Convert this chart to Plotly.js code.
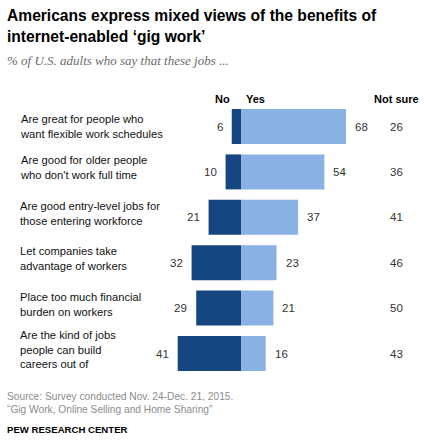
<!DOCTYPE html>
<html>
<head>
<meta charset="utf-8">
<script src="https://cdn.plot.ly/plotly-3.0.1.min.js"></script>
<style>
  html, body { margin: 0; padding: 0; background: #fff; }
  #chart { width: 426px; height: 443px; }
</style>
</head>
<body>
<div id="chart"></div>
<script>
// Pew gig-work chart: diverging No / Yes bars + "Not sure" column.

const categories = [
  'Are great for people who<br>want flexible work schedules',
  'Are good for older people<br>who don\'t work full time',
  'Are good entry-level jobs for<br>those entering workforce',
  'Let companies take<br>advantage of workers',
  'Place too much financial<br>burden on workers',
  'Are the kind of jobs<br>people can build<br>careers out of',
];
const noVals = [6, 10, 21, 32, 29, 41];
const yesVals = [68, 54, 37, 23, 21, 16];
const notSureVals = [26, 36, 41, 46, 50, 43];

const W = 426;
const H = 443;
const FONT = '"Liberation Sans", Arial, sans-serif';
const SERIF = '"Liberation Serif", Georgia, serif';
const COLORS = { no: '#15467f', yes: '#89b1e4', text: '#333333', muted: '#8c8c8c' };

// pixel layout of the reference: zero line at x=241, 1.544 px per point,
// first row centre at y=126.5, rows 45.4 px apart.
const ZERO_PX = 241;
const PX_PER_UNIT = 1.544;
const ROW0_PX = 126.5;
const ROW_STEP = 45.4;
const py = (p) => 1 - p / H;   // pixel y -> paper y (margins are 0)
const px = (p) => p / W;

const rowIdx = categories.map((_, i) => i);

const traces = [
  {
    type: 'bar', orientation: 'h', name: 'No',
    x: noVals.map((v) => -v), y: rowIdx,
    marker: { color: COLORS.no }, hoverinfo: 'skip',
  },
  {
    type: 'bar', orientation: 'h', name: 'Yes',
    x: yesVals, y: rowIdx,
    marker: { color: COLORS.yes }, hoverinfo: 'skip',
  },
];

const ann = [];
const txt = (text, x, y, opts = {}) => ann.push({
  text, x, y, xref: 'paper', yref: 'paper', showarrow: false,
  xanchor: opts.xanchor || 'left', yanchor: 'middle', align: 'left',
  font: { family: opts.family || FONT, size: opts.size || 11, color: opts.color || COLORS.text,
          weight: opts.weight, style: opts.style },
});

// titles / footer
txt('Americans express mixed views of the benefits of', px(5), py(15), { size: 15.6, weight: 'bold', color: '#000' });
txt('internet-enabled \u2018gig work\u2019', px(5), py(37), { size: 15.6, weight: 'bold', color: '#000' });
txt('% of U.S. adults who say that these jobs ...', px(5), py(61), { family: SERIF, size: 13, style: 'italic', color: '#6b6b6b' });
txt('Source: Survey conducted Nov. 24-Dec. 21, 2015.', px(5), py(396), { size: 10.2, color: COLORS.muted });
txt('\u201cGig Work, Online Selling and Home Sharing\u201d', px(5), py(409), { size: 10.2, color: COLORS.muted });
txt('PEW RESEARCH CENTER', px(5), py(429), { size: 9.6, weight: 'bold', color: '#000' });

// column headers
ann.push({ text: '<b>No</b>', x: 0, xanchor: 'right', xshift: -9, y: -0.605, xref: 'x', yref: 'y', showarrow: false, font: { family: FONT, size: 11, color: '#000' } });
ann.push({ text: '<b>Yes</b>', x: 0, xanchor: 'left', xshift: 3, y: -0.605, xref: 'x', yref: 'y', showarrow: false, font: { family: FONT, size: 11, color: '#000' } });
ann.push({ text: '<b>Not sure</b>', x: px(396), xanchor: 'center', y: -0.605, xref: 'paper', yref: 'y', showarrow: false, font: { family: FONT, size: 11, color: '#000' } });

categories.forEach((c, i) => {
  ann.push({ text: c, x: px(18), xanchor: 'left', align: 'left', y: i, yshift: i === 0 ? 0 : 4, xref: 'paper', yref: 'y', showarrow: false, font: { family: FONT, size: 11.2, color: '#111' } });
  ann.push({ text: String(noVals[i]), x: -noVals[i], xanchor: 'right', xshift: -7, y: i, xref: 'x', yref: 'y', showarrow: false, font: { family: FONT, size: 11.5, color: COLORS.text } });
  ann.push({ text: String(yesVals[i]), x: yesVals[i], xanchor: 'left', xshift: 7, y: i, xref: 'x', yref: 'y', showarrow: false, font: { family: FONT, size: 11.5, color: COLORS.text } });
  ann.push({ text: String(notSureVals[i]), x: px(396), xanchor: 'center', y: i, xref: 'paper', yref: 'y', showarrow: false, font: { family: FONT, size: 11.5, color: COLORS.text } });
});

const layout = {
  width: W, height: H,
  margin: { l: 0, r: 0, t: 0, b: 0 },
  paper_bgcolor: '#fff', plot_bgcolor: '#fff',
  barmode: 'relative', bargap: 0.23,
  showlegend: false,
  xaxis: { range: [-ZERO_PX / PX_PER_UNIT, (W - ZERO_PX) / PX_PER_UNIT], visible: false, fixedrange: true },
  yaxis: { range: [(H - ROW0_PX) / ROW_STEP, -ROW0_PX / ROW_STEP], visible: false, fixedrange: true },
  annotations: ann,
  hovermode: false,
};

Plotly.newPlot('chart', traces, layout, { displayModeBar: false, staticPlot: true });
</script>
</body>
</html>
